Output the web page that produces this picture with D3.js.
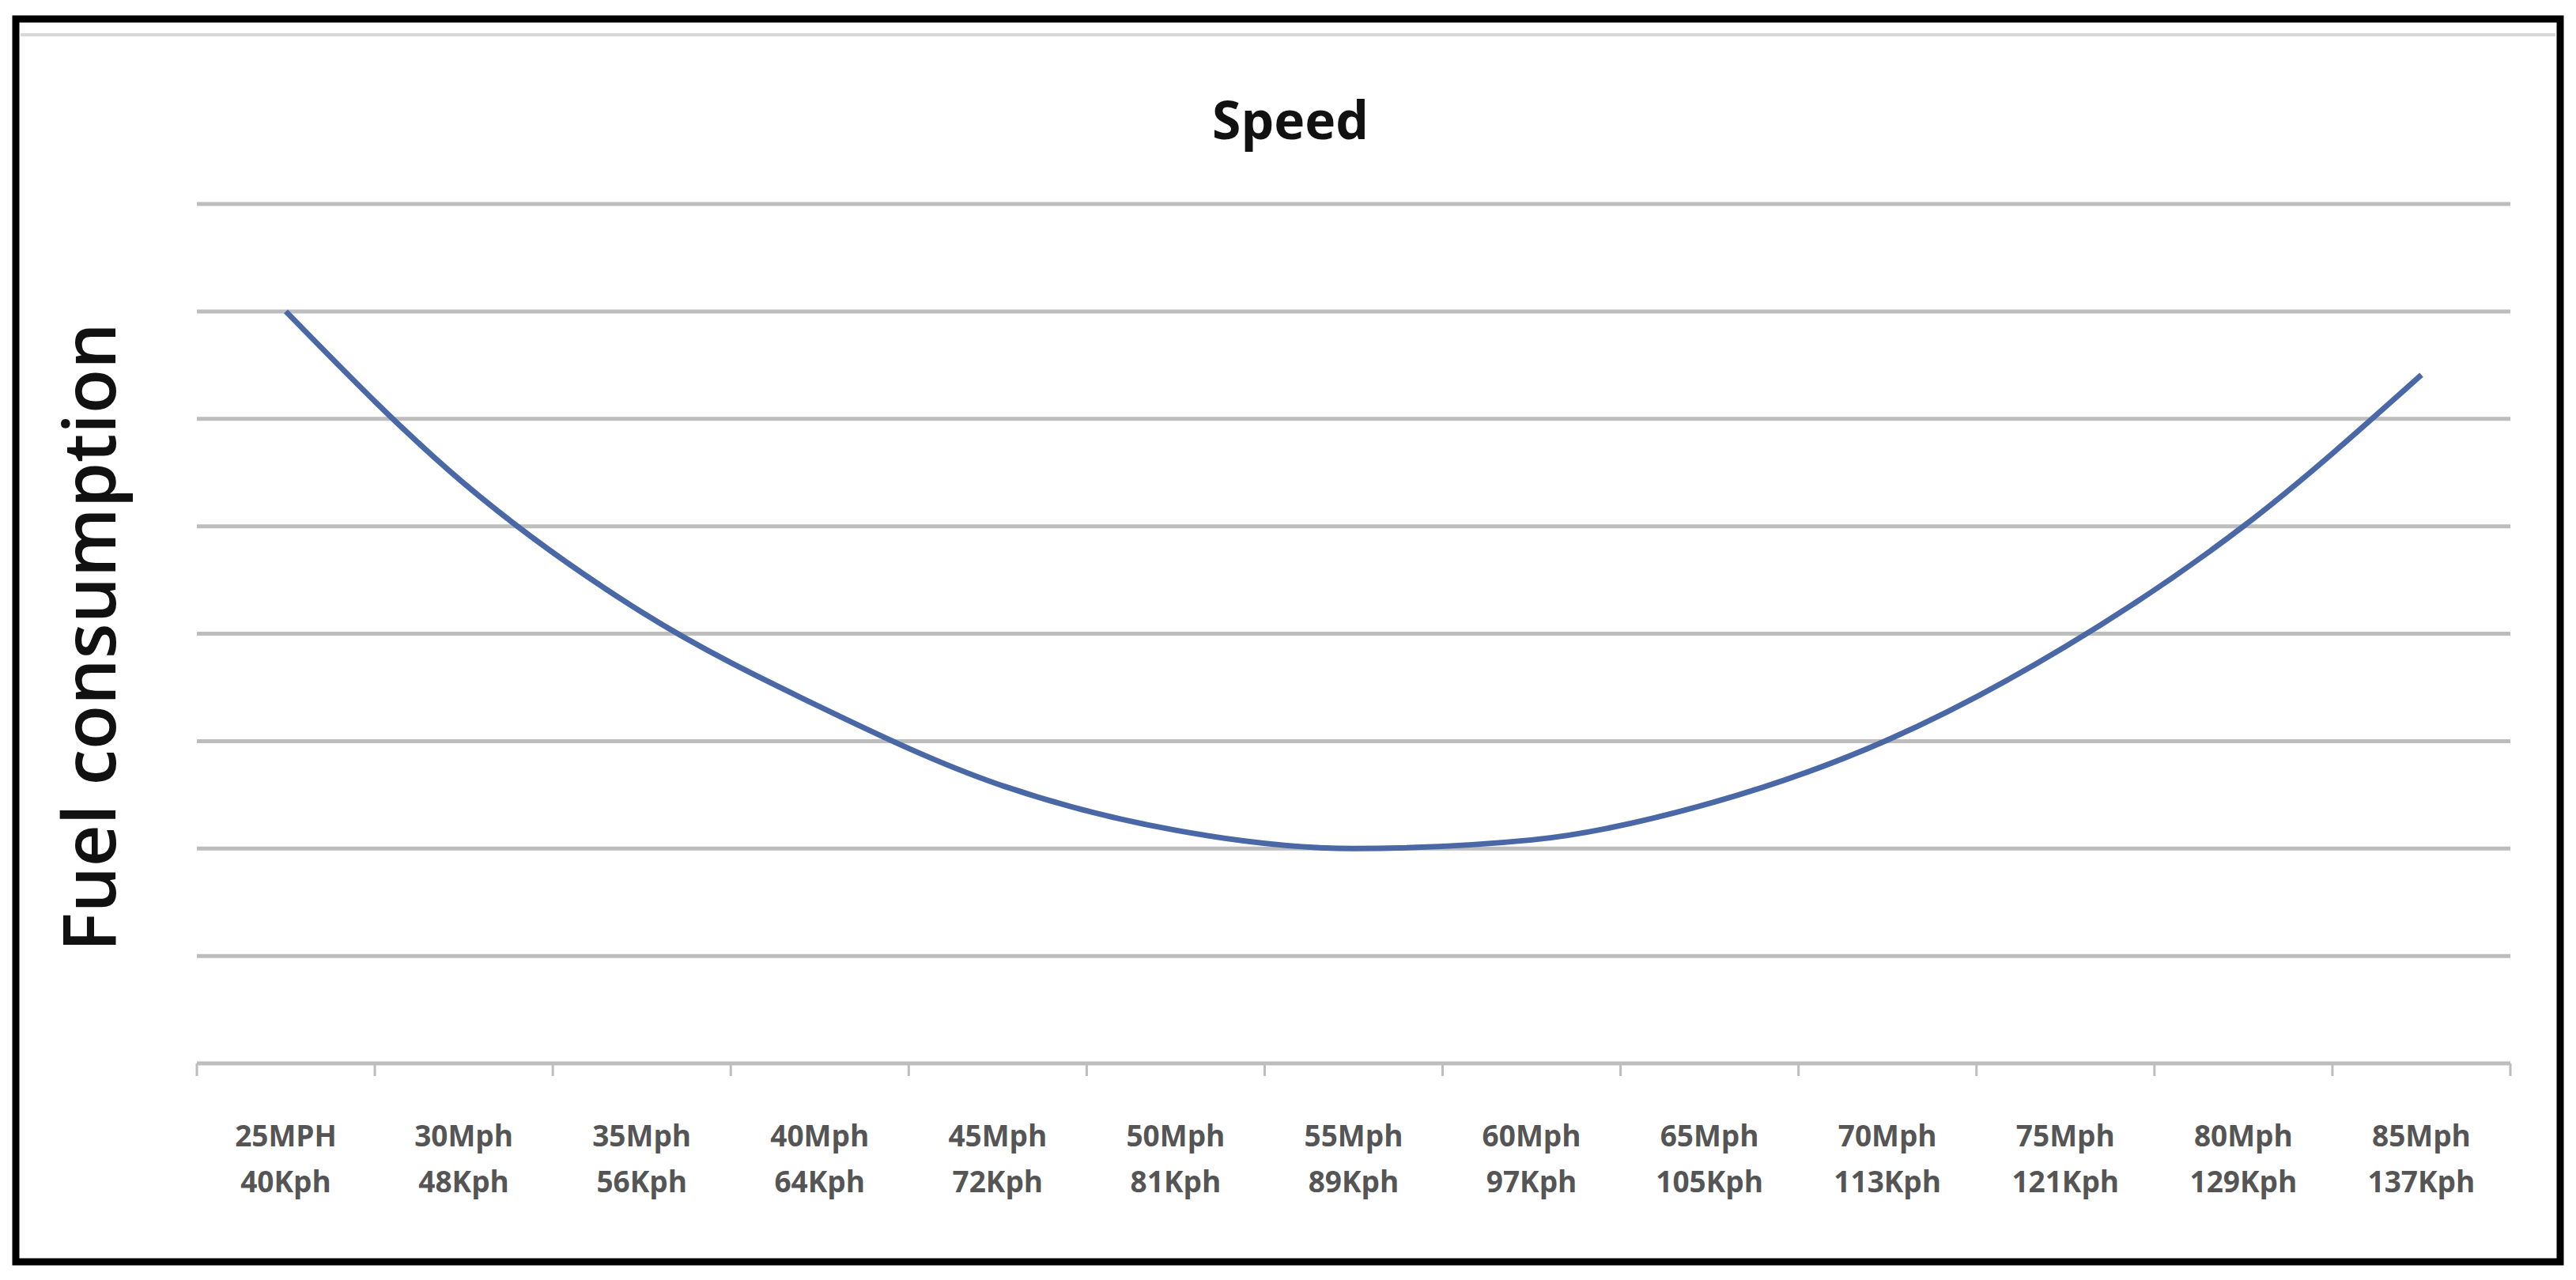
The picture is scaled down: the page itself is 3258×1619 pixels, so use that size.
<!DOCTYPE html>
<html>
<head>
<meta charset="utf-8">
<script src="https://cdn.jsdelivr.net/npm/d3@7"></script>
<style>
  body { margin: 0; background: #fff; }
</style>
</head>
<body>
<div id="chart"></div>
<script>
// speed categories (two line labels) and fuel consumption
var mphLabels = ["25MPH", "30Mph", "35Mph", "40Mph", "45Mph", "50Mph", "55Mph", "60Mph", "65Mph", "70Mph", "75Mph", "80Mph", "85Mph"];
var kphLabels = ["40Kph", "48Kph", "56Kph", "64Kph", "72Kph", "81Kph", "89Kph", "97Kph", "105Kph", "113Kph", "121Kph", "129Kph", "137Kph"];
var consumption = [7.0, 5.4, 4.2, 3.32, 2.6, 2.17, 2.0, 2.08, 2.42, 3.01, 3.88, 5.0, 6.41];
var gridTicks = [0, 1, 2, 3, 4, 5, 6, 7, 8];

var svgWidth = 3258;
var svgHeight = 1619;

// plot area
var chartMargin = { top: 258, right: 3258 - 3175, bottom: 1619 - 1345, left: 249 };
var chartWidth = svgWidth - chartMargin.left - chartMargin.right;
var chartHeight = svgHeight - chartMargin.top - chartMargin.bottom;

var svg = d3.select("#chart")
  .append("svg")
  .attr("width", svgWidth)
  .attr("height", svgHeight);

// outer black frame
svg.append("rect")
  .attr("x", 20).attr("y", 24)
  .attr("width", 3218).attr("height", 1572)
  .attr("fill", "#fff")
  .attr("stroke", "#000")
  .attr("stroke-width", 9);

svg.append("line")
  .attr("x1", 26).attr("x2", 3232)
  .attr("y1", 44).attr("y2", 44)
  .attr("stroke", "#d8d8d8").attr("stroke-width", 4);

var chartGroup = svg.append("g")
  .attr("transform", `translate(${chartMargin.left}, ${chartMargin.top})`);

var xscale = d3.scaleBand()
  .domain(mphLabels)
  .range([0, chartWidth]);

var yscale = d3.scaleLinear()
  .domain([0, 8])
  .range([chartHeight, 0]);

// horizontal gridlines
chartGroup.append("g")
  .selectAll("line")
  .data(gridTicks)
  .enter()
  .append("line")
  .attr("x1", 0)
  .attr("x2", chartWidth)
  .attr("y1", d => yscale(d))
  .attr("y2", d => yscale(d))
  .attr("stroke", "#bdbdbd")
  .attr("stroke-width", 5);

// category tick marks on the bottom axis
var tickX = d3.range(mphLabels.length + 1).map(i => i * xscale.bandwidth());
chartGroup.append("g")
  .selectAll("line")
  .data(tickX)
  .enter()
  .append("line")
  .attr("x1", d => d).attr("x2", d => d)
  .attr("y1", chartHeight).attr("y2", chartHeight + 16)
  .attr("stroke", "#bdbdbd")
  .attr("stroke-width", 3);

// two-line tick labels
var labelGroup = chartGroup.append("g")
  .attr("font-family", "Open Sans, sans-serif")
  .attr("font-weight", "bold")
  .attr("font-size", 37)
  .attr("fill", "#555")
  .attr("text-anchor", "middle");

mphLabels.forEach(function(m, i) {
  var cx = xscale(m) + xscale.bandwidth() / 2;
  labelGroup.append("text").attr("x", cx).attr("y", chartHeight + 105).text(m);
  labelGroup.append("text").attr("x", cx).attr("y", chartHeight + 163).text(kphLabels[i]);
});

// the fuel consumption curve
var line = d3.line()
  .x((d, i) => xscale(mphLabels[i]) + xscale.bandwidth() / 2)
  .y(d => yscale(d))
  .curve(d3.curveMonotoneX);

chartGroup.append("path")
  .datum(consumption)
  .attr("d", line)
  .attr("fill", "none")
  .attr("stroke", "#4a67a6")
  .attr("stroke-width", 7);

// title
svg.append("text")
  .attr("x", 1632).attr("y", 176)
  .attr("text-anchor", "middle")
  .attr("font-family", "Open Sans, sans-serif")
  .attr("font-weight", "bold")
  .attr("font-size", 66)
  .attr("fill", "#111")
  .text("Speed");

// y axis label
svg.append("text")
  .attr("transform", "translate(146, 806) rotate(-90)")
  .attr("text-anchor", "middle")
  .attr("font-family", "Open Sans, sans-serif")
  .attr("font-weight", "600")
  .attr("font-size", 92)
  .attr("fill", "#111")
  .text("Fuel consumption");
</script>
</body>
</html>
